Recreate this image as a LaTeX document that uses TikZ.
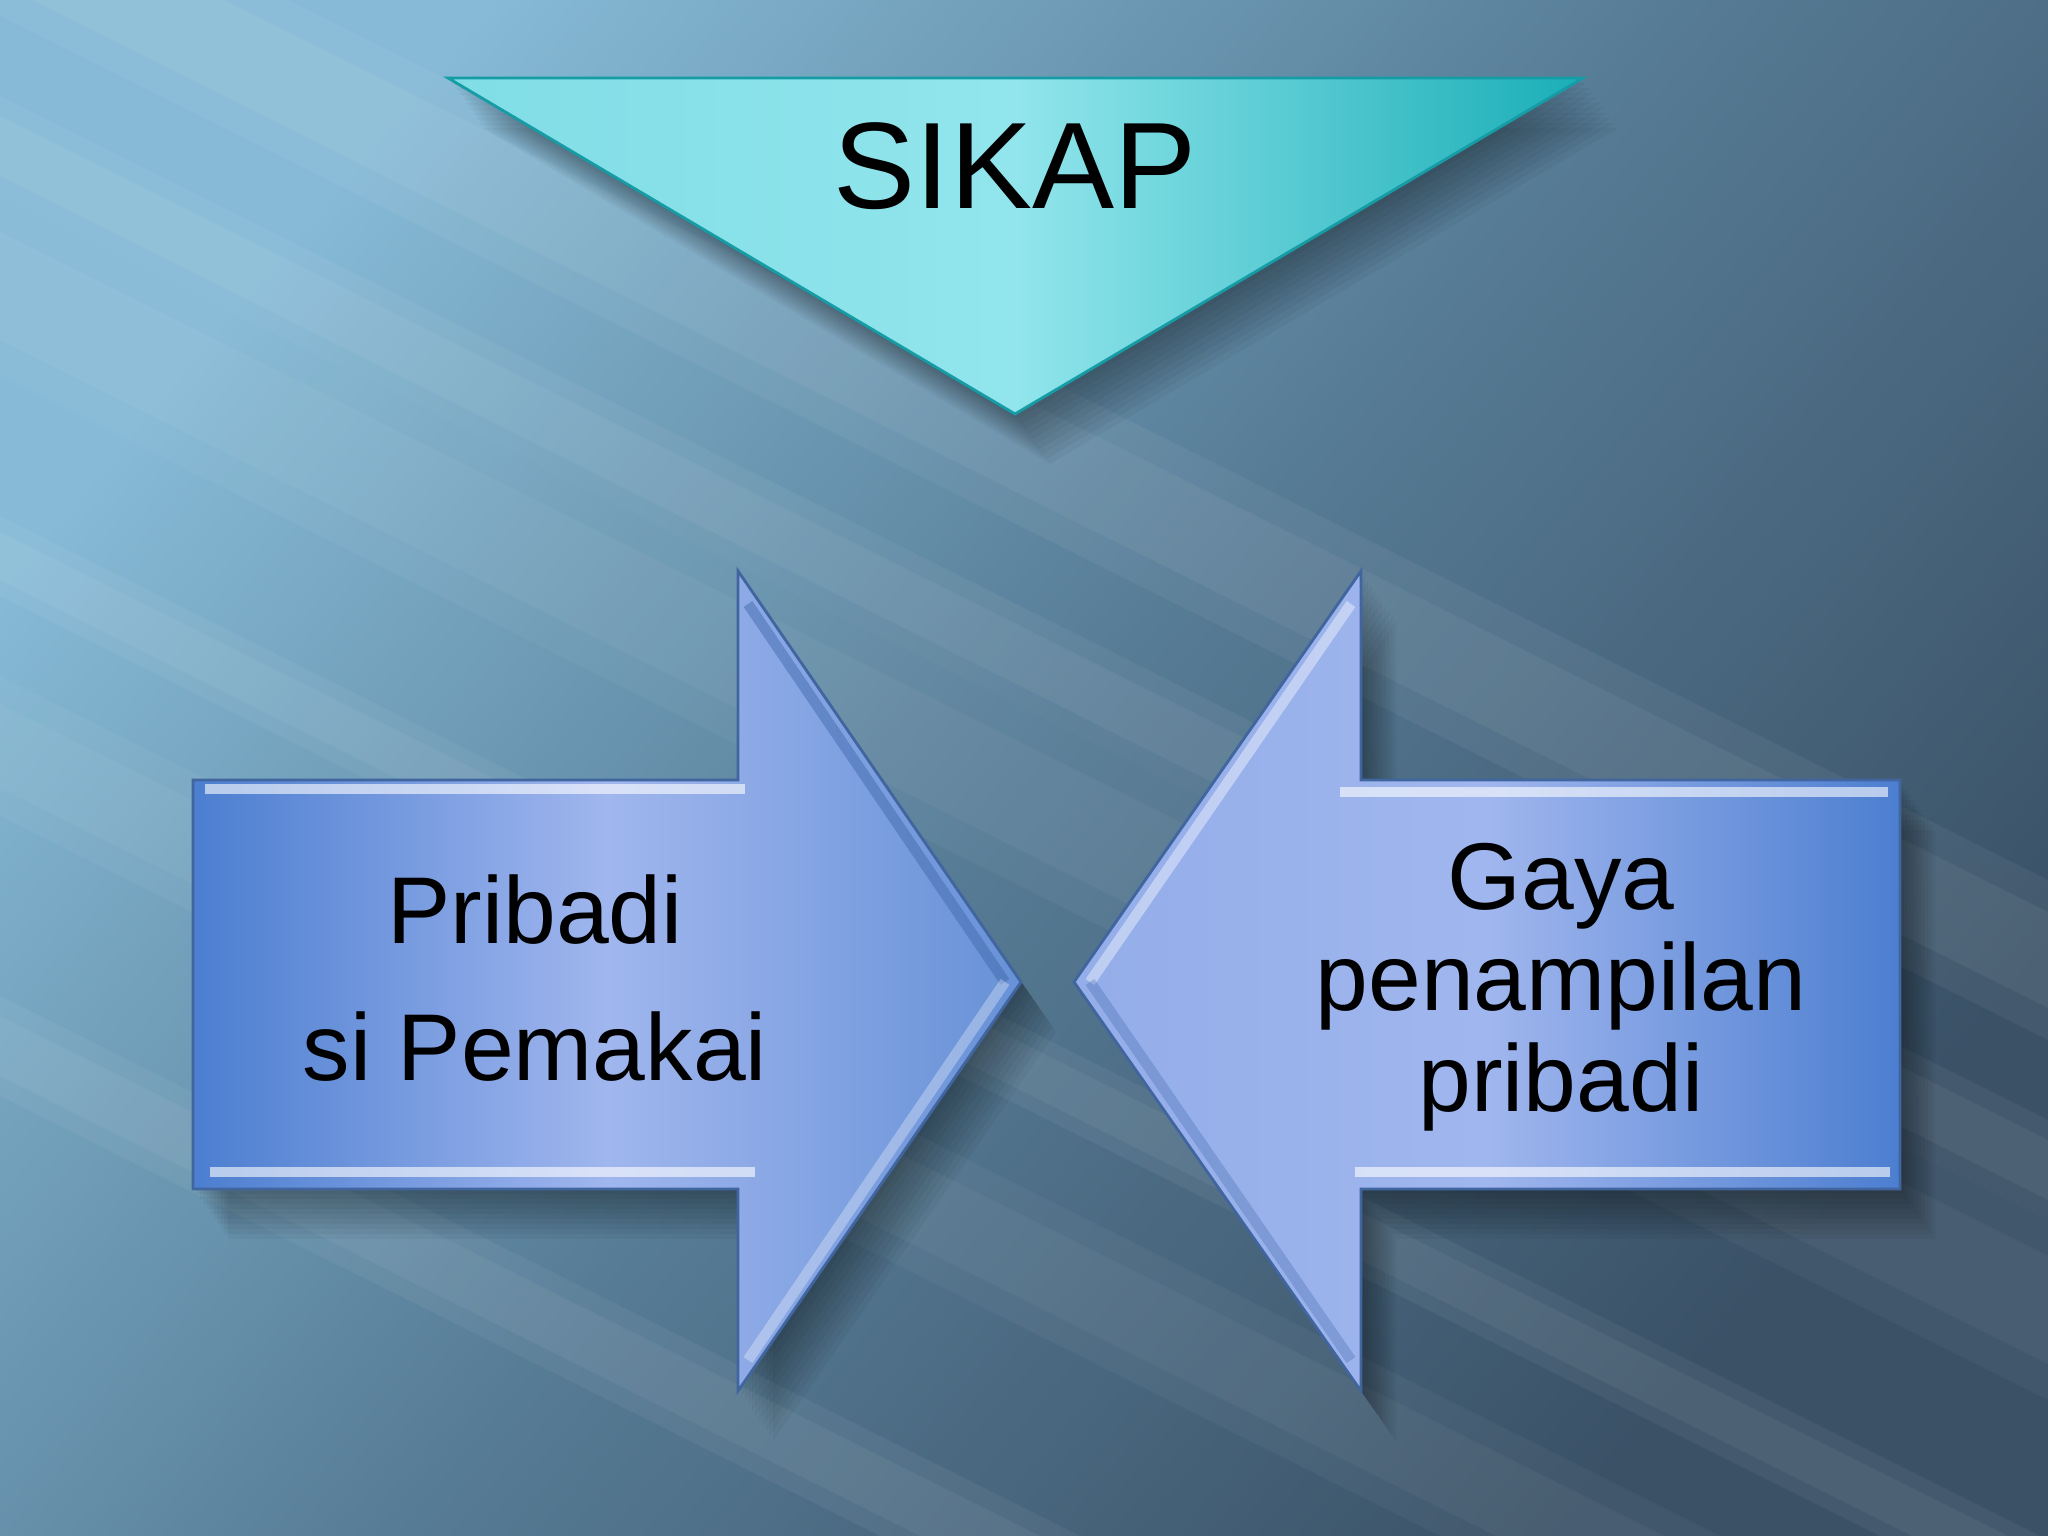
\documentclass[tikz,border=0pt]{standalone}
\usepackage{fontspec}
\setmainfont{Liberation Sans}
\definecolor{bgLight}{HTML}{86BAD6}
\definecolor{bgMid}{HTML}{577C96}
\definecolor{bgDark}{HTML}{3A5166}
\definecolor{triLeft}{HTML}{80DDE6}
\definecolor{triMid}{HTML}{92E5EC}
\definecolor{triRight}{HTML}{1AAEB7}
\definecolor{triEdge}{HTML}{159CA5}
\definecolor{arrowDark}{HTML}{4C7ED0}
\definecolor{arrowLight}{HTML}{A0B6EE}
\definecolor{arrowEdge}{HTML}{41659E}
\begin{document}
\begin{tikzpicture}[
    shadowcopy/.style={black, opacity=0.04},
    arrowedge/.style={draw=arrowEdge, line width=0.8pt},
    bevellight/.style={white, opacity=0.6, line width=3pt},
    beveldark/.style={arrowDark!80!black, opacity=0.45, line width=3pt},
    arrowtext/.style={align=center, text=black},
]
    \def\W{20.48}
    \def\H{15.36}
    \def\tripath{(4.48,14.58) -- (15.83,14.58) -- (10.15,11.22) -- cycle}
    \def\rightpath{(1.93,7.56) -- (7.38,7.56) -- (7.38,9.65) -- (10.21,5.54) -- (7.38,1.45) -- (7.38,3.47) -- (1.93,3.47) -- cycle}
    \def\leftpath{(19.00,7.56) -- (13.61,7.56) -- (13.61,9.65) -- (10.74,5.54) -- (13.61,1.45) -- (13.61,3.47) -- (19.00,3.47) -- cycle}
    \useasboundingbox (0,0) rectangle (\W,\H);

    % Background
    \shade[top color=bgLight, bottom color=bgDark, middle color=bgMid, shading angle=50] (0,0) rectangle (\W,\H);
    \begin{scope}
        \clip (0,0) rectangle (\W,\H);
        \foreach \y/\w/\o in {15.2/1.6/0.05, 13.4/1.0/0.05, 11.6/1.8/0.04, 9.4/0.8/0.05, 7.2/1.4/0.04, 4.4/1.0/0.05} {
            \fill[white, opacity=\o] (0,\y) -- ++(0,\w) -- ++(22,-11) -- ++(0,-\w) -- cycle;
            \fill[white, opacity=\o] (0,\y+0.2*\w) -- ++(0,0.6*\w) -- ++(22,-11) -- ++(0,-0.6*\w) -- cycle;
        }
    \end{scope}

    % Shadows
    \foreach \k in {1,...,10} {
        \fill[shadowcopy, shift={(0.035*\k,-0.05*\k)}] \tripath;
        \fill[shadowcopy, shift={(0.035*\k,-0.05*\k)}] \rightpath;
        \fill[shadowcopy, shift={(0.035*\k,-0.05*\k)}] \leftpath;
    }

    % Triangle
    \shade[left color=triLeft, right color=triRight, middle color=triMid, draw=triEdge, line width=0.8pt] \tripath;
    \node[arrowtext, font=\fontsize{35}{40}\selectfont] (sikap) at (10.15,13.70) {SIKAP};

    % Arrow pointing right
    \shade[left color=arrowDark, right color=arrowDark!85!white, middle color=arrowLight, arrowedge] \rightpath;
    \draw[bevellight] (2.05,7.47) -- (7.45,7.47);
    \draw[bevellight] (2.10,3.64) -- (7.55,3.64);
    \draw[beveldark] (7.48,9.32) -- (10.05,5.54);
    \draw[bevellight, opacity=0.3] (10.05,5.54) -- (7.48,1.76);
    \node[arrowtext, font=\fontsize{27}{39}\selectfont] (pribadi) at (5.35,5.58) {Pribadi\\si Pemakai};

    % Arrow pointing left
    \shade[left color=arrowLight!85!arrowDark, right color=arrowDark, middle color=arrowLight, arrowedge] \leftpath;
    \draw[bevellight] (13.40,7.44) -- (18.88,7.44);
    \draw[bevellight] (13.55,3.64) -- (18.90,3.64);
    \draw[bevellight, opacity=0.4] (10.90,5.54) -- (13.51,9.32);
    \draw[beveldark, opacity=0.3] (10.90,5.54) -- (13.51,1.76);
    \node[arrowtext, font=\fontsize{27}{28.7}\selectfont] (gaya) at (15.61,5.49) {Gaya\\penampilan\\pribadi};
\end{tikzpicture}
\end{document}
